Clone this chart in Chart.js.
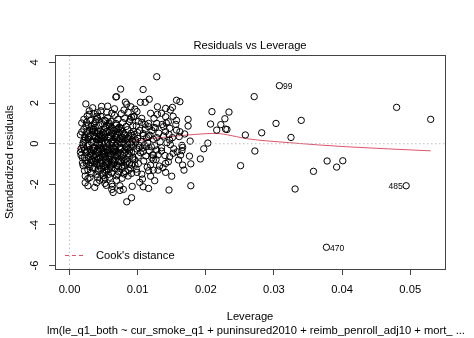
<!DOCTYPE html>
<html>
<head>
<meta charset="utf-8">
<script src="https://cdn.jsdelivr.net/npm/chart.js@4.4.1/dist/chart.umd.min.js"></script>
<style>
  html, body { margin: 0; padding: 0; background: #fff; }
</style>
</head>
<body>
<canvas id="rvl" width="474" height="338"></canvas>
<script>
// ------------------------------------------------------------------
// DATA
const chartTitle = 'Residuals vs Leverage';
const xTitle = 'Leverage';
const yTitle = 'Standardized residuals';
const modelCall = 'lm(le_q1_both ~ cur_smoke_q1 + puninsured2010 + reimb_penroll_adj10 + mort_ ...';
const legendLabel = "Cook's distance";

const xTicks = [0, 0.01, 0.02, 0.03, 0.04, 0.05];
const yTicks = [-6, -4, -2, 0, 2, 4];

// dense core of observations [leverage, standardized residual]
const coreObs = [
  [0.0018,1.02],[0.0021,0.71],[0.0016,0.44],[0.0023,0.18],[0.0019,-0.05],[0.0022,-0.31],[0.0017,-0.57],[0.0024,-0.83],[0.0020,-1.08],
  [0.0018,0.58],[0.0023,0.31],[0.0021,-0.18],[0.0016,-0.42],[0.0022,-0.69],[0.0019,-0.95],[0.0024,0.88],[0.0020,0.05],[0.0017,-0.24],
  [0.0022,0.35],[0.0019,-0.70],[0.0024,-0.45],[0.0021,0.15],

  [0.0026,1.38],[0.0031,1.15],[0.0028,0.92],[0.0033,0.74],[0.0025,0.55],[0.0030,0.40],[0.0027,0.22],[0.0032,0.08],[0.0029,-0.07],
  [0.0034,-0.21],[0.0026,-0.36],[0.0031,-0.50],[0.0028,-0.66],[0.0033,-0.81],[0.0025,-0.97],[0.0030,-1.12],[0.0027,-1.29],[0.0032,-1.45],
  [0.0029,1.62],[0.0034,0.63],[0.0026,-0.14],[0.0031,-0.93],[0.0028,0.30],[0.0033,-0.58],[0.0025,1.05],[0.0030,-0.28],[0.0027,-1.72],
  [0.0032,0.85],[0.0029,-1.03],[0.0034,0.12],[0.0027,0.48],[0.0032,-0.40],[0.0029,0.66],[0.0034,-1.20],

  [0.0036,1.48],[0.0041,1.27],[0.0038,1.08],[0.0043,0.90],[0.0035,0.71],[0.0040,0.54],[0.0037,0.37],[0.0042,0.21],[0.0039,0.06],
  [0.0044,-0.09],[0.0036,-0.24],[0.0041,-0.39],[0.0038,-0.55],[0.0043,-0.70],[0.0035,-0.86],[0.0040,-1.01],[0.0037,-1.17],[0.0042,-1.33],
  [0.0039,-1.50],[0.0044,-1.80],[0.0036,0.98],[0.0041,0.62],[0.0038,0.28],[0.0043,-0.02],[0.0035,-0.33],[0.0040,-0.64],[0.0037,-0.95],
  [0.0042,-1.25],[0.0039,1.18],[0.0044,0.45],[0.0036,-0.17],[0.0041,-0.78],[0.0038,0.80],[0.0043,-0.46],[0.0037,-2.15],[0.0040,1.35],
  [0.0036,0.12],[0.0041,-0.28],[0.0038,-0.82],[0.0043,0.33],[0.0035,-0.60],[0.0040,0.20],[0.0044,-1.08],[0.0037,0.58],

  [0.0046,1.35],[0.0051,1.16],[0.0048,0.98],[0.0053,0.80],[0.0045,0.63],[0.0050,0.47],[0.0047,0.31],[0.0052,0.15],[0.0049,0.00],
  [0.0054,-0.15],[0.0046,-0.30],[0.0051,-0.45],[0.0048,-0.61],[0.0053,-0.76],[0.0045,-0.92],[0.0050,-1.07],[0.0047,-1.23],[0.0052,-1.39],
  [0.0049,-1.58],[0.0054,-2.05],[0.0046,1.62],[0.0051,0.72],[0.0048,0.38],[0.0053,0.07],[0.0045,-0.23],[0.0050,-0.53],[0.0047,-0.84],
  [0.0052,-1.14],[0.0049,-1.45],[0.0054,0.90],[0.0046,0.22],[0.0051,-0.38],[0.0048,-0.99],[0.0053,1.12],[0.0045,-0.68],[0.0050,-1.78],
  [0.0046,-0.10],[0.0051,0.30],[0.0048,-0.48],[0.0053,-0.92],[0.0045,0.40],[0.0050,-0.20],[0.0047,0.10],[0.0052,-0.62],[0.0049,0.55],
  [0.0054,-1.30],

  [0.0056,1.28],[0.0061,1.10],[0.0058,0.93],[0.0063,0.76],[0.0055,0.59],[0.0060,0.43],[0.0057,0.27],[0.0062,0.11],[0.0059,-0.04],
  [0.0064,-0.19],[0.0056,-0.34],[0.0061,-0.50],[0.0058,-0.65],[0.0063,-0.81],[0.0055,-0.96],[0.0060,-1.12],[0.0057,-1.28],[0.0062,-1.44],
  [0.0059,-1.65],[0.0064,-2.40],[0.0056,1.85],[0.0061,0.68],[0.0058,0.35],[0.0063,0.02],[0.0055,-0.28],[0.0060,-0.58],[0.0057,-0.89],
  [0.0062,-1.20],[0.0059,0.85],[0.0064,0.18],[0.0056,-0.42],[0.0061,-1.05],[0.0058,1.02],[0.0063,-2.10],
  [0.0056,0.05],[0.0061,-0.25],[0.0058,-0.75],[0.0063,0.50],[0.0055,-1.10],[0.0060,0.28],[0.0057,-0.50],[0.0062,-0.95],[0.0059,0.62],
  [0.0064,-0.40],

  [0.0066,1.40],[0.0071,1.20],[0.0068,1.00],[0.0073,0.82],[0.0065,0.65],[0.0070,0.48],[0.0067,0.32],[0.0072,0.16],[0.0069,0.01],
  [0.0074,-0.14],[0.0066,-0.29],[0.0071,-0.45],[0.0068,-0.60],[0.0073,-0.76],[0.0065,-0.91],[0.0070,-1.07],[0.0067,-1.22],[0.0072,-1.38],
  [0.0069,-1.80],[0.0074,-2.30],[0.0066,1.72],[0.0071,0.74],[0.0068,0.40],[0.0073,0.08],[0.0065,-0.22],[0.0070,-0.52],[0.0067,-0.83],
  [0.0072,-1.13],[0.0069,0.92],[0.0074,0.25],[0.0066,-0.36],[0.0071,-1.50],
  [0.0066,0.10],[0.0071,-0.60],[0.0068,-0.15],[0.0073,0.55],[0.0065,-1.02],[0.0070,0.30],[0.0067,-0.40],[0.0072,-0.88],[0.0069,0.70],

  [0.0076,1.48],[0.0081,1.25],[0.0078,1.04],[0.0083,0.85],[0.0075,0.67],[0.0080,0.50],[0.0077,0.33],[0.0082,0.17],[0.0079,0.02],
  [0.0084,-0.13],[0.0076,-0.28],[0.0081,-0.44],[0.0078,-0.59],[0.0083,-0.75],[0.0075,-0.90],[0.0080,-1.06],[0.0077,-1.21],[0.0082,-1.37],
  [0.0079,-2.25],[0.0084,1.95],[0.0076,0.76],[0.0081,0.41],[0.0078,0.09],[0.0083,-0.21],[0.0075,-0.51],[0.0080,-0.82],[0.0077,-1.12],
  [0.0082,2.05],[0.0076,0.05],[0.0081,-0.30],[0.0078,0.60],[0.0083,-0.95],[0.0075,-0.20],[0.0080,0.25],[0.0077,-0.70],

  [0.0086,1.55],[0.0091,1.30],[0.0088,1.08],[0.0093,0.88],[0.0085,0.69],[0.0090,0.51],[0.0087,0.34],[0.0092,0.18],[0.0089,0.03],
  [0.0094,-0.12],[0.0086,-0.27],[0.0091,-0.43],[0.0088,-0.58],[0.0093,-0.74],[0.0085,-0.89],[0.0090,-1.22],[0.0087,-1.30],[0.0092,-2.10],
  [0.0089,1.20],[0.0094,0.60],[0.0086,0.27],[0.0091,-0.05],[0.0088,-0.35],[0.0093,-0.66],
  [0.0086,-0.50],[0.0091,0.40],[0.0088,-1.00],[0.0093,0.10],[0.0089,-0.18],

  [0.0096,1.70],[0.0101,1.10],[0.0098,0.88],[0.0103,0.66],[0.0095,0.46],[0.0100,0.27],[0.0097,0.09],[0.0102,-0.08],[0.0099,-0.26],
  [0.0104,-0.44],[0.0096,-0.80],[0.0101,-0.98],[0.0098,-1.25],[0.0103,-1.90],[0.0095,1.35],[0.0100,0.55],[0.0097,0.18],[0.0102,-0.20],

  [0.0106,1.05],[0.0111,0.72],[0.0108,0.50],[0.0113,0.30],[0.0105,0.12],[0.0110,-0.05],[0.0107,-0.22],[0.0112,-0.60],[0.0109,-0.85],
  [0.0114,-1.15],[0.0106,-1.50],[0.0111,0.95],[0.0108,0.40],[0.0113,-0.15],

  [0.0116,1.00],[0.0121,0.65],[0.0118,0.42],[0.0123,0.22],[0.0115,0.03],[0.0120,-0.15],[0.0117,-0.34],[0.0122,-0.55],[0.0119,-1.60],
  [0.0124,0.80],[0.0116,0.35],[0.0121,-0.70],

  [0.0126,0.78],[0.0131,0.52],[0.0128,0.30],[0.0133,0.10],[0.0125,-0.10],[0.0130,-0.55],[0.0127,-0.78],[0.0132,-1.10],[0.0129,1.45],
  [0.0136,0.95],[0.0141,0.60],[0.0138,0.38],[0.0143,0.05],[0.0135,-0.20],[0.0140,-0.58],[0.0137,-1.18],[0.0142,1.02],
  [0.0146,0.45],[0.0151,0.30],[0.0148,-0.05],[0.0153,-0.25],[0.0150,-1.60],[0.0152,1.35],
  [0.0156,0.95],[0.0161,0.35],[0.0158,-0.40],[0.0160,-0.80],[0.0157,1.15]
];

// edge of the cloud, upper and lower
const edgeObs = [
  [0.0128,3.30],[0.0075,2.69],[0.0108,2.67],[0.0068,2.30],[0.0069,2.32],[0.0024,1.96],[0.0034,1.77],[0.0047,1.84],
  [0.0041,1.53],[0.0029,1.45],[0.0021,1.20],[0.0055,1.55],[0.0062,1.50],[0.0090,1.82],[0.0080,1.66],
  [0.0104,2.04],[0.0111,2.04],[0.0117,2.19],[0.0157,2.14],[0.0151,1.79],[0.0148,1.66],[0.0141,1.74],[0.0129,1.82],
  [0.0135,1.50],[0.0119,1.50],[0.0099,1.58],[0.0094,1.33],[0.0106,1.25],[0.0124,1.25],[0.0141,1.33],[0.0145,1.08],
  [0.0157,0.67],[0.0147,0.76],[0.0138,0.84],[0.0128,1.00],[0.0116,0.84],[0.0147,0.18],

  [0.0107,-1.74],[0.0125,-1.82],[0.0146,-2.28],[0.0108,-2.12],[0.0116,-2.20],[0.0141,-1.41],[0.0141,-0.97],[0.0130,-1.30],
  [0.0123,-1.30],[0.0116,-1.33],[0.0119,-1.05],[0.0123,-0.80],[0.0123,-0.56],[0.0145,-0.89],[0.0147,-0.64],[0.0152,-0.47],
  [0.0135,-0.36],[0.0128,-0.31],[0.0108,-0.39],[0.0101,-0.61],[0.0096,-1.05],[0.0099,-1.41],[0.0091,-1.46],
  [0.0091,-2.66],[0.0084,-2.86],[0.0074,-2.07],[0.0062,-2.25],[0.0062,-1.99],[0.0052,-1.95],[0.0040,-1.92],[0.0027,-2.07],
  [0.0023,-1.92],[0.0030,-1.66],[0.0041,-1.66],[0.0023,-1.59],[0.0022,-1.33],[0.0091,-1.05],[0.0077,-1.70],[0.0080,-1.49],
  [0.0086,-1.59],[0.0069,-1.58],[0.0057,-1.51],[0.0052,-1.70]
];

// high leverage observations
const outerObs = [
  [0.0308,2.86],[0.0162,2.07],[0.0271,2.32],[0.0480,1.79],[0.0530,1.20],[0.0209,1.58],[0.0234,1.56],[0.0174,1.20],
  [0.0174,0.87],[0.0207,0.97],[0.0228,1.23],[0.0222,0.94],[0.0216,0.67],[0.0229,0.72],[0.0231,0.70],[0.0303,1.00],
  [0.0340,1.15],[0.0282,0.54],[0.0258,0.43],[0.0325,0.31],[0.0162,0.59],[0.0169,0.48],[0.0177,0.13],[0.0203,0.03],
  [0.0197,-0.25],[0.0166,-0.18],[0.0165,-0.08],[0.0165,-0.34],[0.0176,-0.61],[0.0163,-0.56],[0.0272,-0.36],[0.0192,-0.75],
  [0.0178,-0.99],[0.0166,-1.05],[0.0168,-1.30],[0.0251,-1.08],[0.0378,-0.85],[0.0401,-0.84],[0.0392,-1.15],[0.0358,-1.36],
  [0.0178,-2.07],[0.0331,-2.23],[0.0494,-2.07],[0.0377,-5.10]
];

// observation numbers printed next to points
const labelIds = ['99', '485', '470'];
const labelLev = [0.0308, 0.0494, 0.0377];
const labelRes = [2.86, -2.07, -5.10];
const labelSide = ['right', 'left', 'right'];

// red smoother
const smoothLev = [0.0011, 0.0027, 0.0059, 0.0092, 0.0125, 0.0174, 0.0215, 0.0230, 0.0260, 0.0323, 0.0407, 0.0530];
const smoothRes = [-0.24, -0.15, 0.01, 0.11, 0.27, 0.43, 0.51, 0.45, 0.25, 0.05, -0.15, -0.35];

const X_MIN = -0.00213, X_MAX = 0.0551;
const Y_MIN = -6.17, Y_MAX = 4.37;
// ------------------------------------------------------------------

const FONT = "'Liberation Sans', Arial, Helvetica, sans-serif";
const RED = '#DF536B';

const toXY = arr => arr.map(([x, y]) => ({ x, y }));

const decorPlugin = {
  id: 'decor',
  afterDraw(chart) {
    const { ctx, chartArea: a } = chart;
    const xs = chart.scales.x, ys = chart.scales.y;
    ctx.save();
    ctx.strokeStyle = '#444';
    ctx.lineWidth = 1;
    ctx.strokeRect(a.left + 0.5, a.top + 0.5, a.right - a.left, a.bottom - a.top);

    ctx.fillStyle = '#000';
    ctx.font = `11.2px ${FONT}`;
    ctx.textAlign = 'center';
    ctx.textBaseline = 'middle';
    const cx = (a.left + a.right) / 2;
    ctx.fillText(chartTitle, cx, 46);
    ctx.fillText(xTitle, cx, 317);
    ctx.fillText(modelCall, cx + 6, 331);

    ctx.save();
    ctx.translate(10, (a.top + a.bottom) / 2);
    ctx.rotate(-Math.PI / 2);
    ctx.fillText(yTitle, 0, 0);
    ctx.restore();

    // legend
    ctx.strokeStyle = RED;
    ctx.lineWidth = 1;
    ctx.setLineDash([4, 3]);
    ctx.beginPath();
    ctx.moveTo(65, 255.5);
    ctx.lineTo(86, 255.5);
    ctx.stroke();
    ctx.setLineDash([]);
    ctx.textAlign = 'left';
    ctx.fillText(legendLabel, 96, 255.5);

    // point ids
    ctx.font = `8.5px ${FONT}`;
    labelIds.forEach((id, i) => {
      const px = xs.getPixelForValue(labelLev[i]);
      const py = ys.getPixelForValue(labelRes[i]);
      const left = labelSide[i] === 'left';
      ctx.textAlign = left ? 'right' : 'left';
      ctx.fillText(id, px + (left ? -3.5 : 3.5), py + 1);
    });
    ctx.restore();
  }
};

const config = {
  type: 'scatter',
  data: {
    datasets: [
      {
        label: 'h0',
        data: [{ x: X_MIN, y: 0 }, { x: X_MAX, y: 0 }],
        showLine: true, borderColor: '#BEBEBE', borderWidth: 1, borderDash: [1.5, 2.5], pointRadius: 0,
      },
      {
        label: 'v0',
        data: [{ x: 0, y: Y_MIN }, { x: 0, y: Y_MAX }],
        showLine: true, borderColor: '#BEBEBE', borderWidth: 1, borderDash: [1.5, 2.5], pointRadius: 0,
      },
      {
        label: 'obs',
        data: toXY(coreObs.concat(edgeObs, outerObs)),
        pointStyle: 'circle', pointRadius: 3.2, borderWidth: 1,
        borderColor: '#000', backgroundColor: 'rgba(0,0,0,0)',
      },
      {
        label: 'smooth',
        data: smoothLev.map((x, i) => ({ x, y: smoothRes[i] })),
        showLine: true, borderColor: RED, borderWidth: 1, pointRadius: 0,
        cubicInterpolationMode: 'monotone',
      },
    ],
  },
  options: {
    responsive: false,
    animation: false,
    layout: { padding: { left: 0, top: 55, right: 29, bottom: 0 } },
    plugins: { legend: { display: false }, tooltip: { enabled: false } },
    scales: {
      x: {
        type: 'linear', min: X_MIN, max: X_MAX,
        afterBuildTicks: s => { s.ticks = xTicks.map(v => ({ value: v })); },
        afterFit: s => { s.height = 69; },
        grid: { drawOnChartArea: false, drawTicks: true, tickLength: 6, color: '#444' },
        border: { display: false },
        ticks: { font: { family: FONT, size: 11.2 }, color: '#000', padding: 8, maxRotation: 0, callback: v => v.toFixed(2) },
      },
      y: {
        type: 'linear', min: Y_MIN, max: Y_MAX,
        afterBuildTicks: s => { s.ticks = yTicks.map(v => ({ value: v })); },
        afterFit: s => { s.width = 55; },
        grid: { drawOnChartArea: false, drawTicks: true, tickLength: 6, color: '#444' },
        border: { display: false },
        ticks: { font: { family: FONT, size: 11.2 }, color: '#000', padding: 9, minRotation: 90, maxRotation: 90, crossAlign: 'center', callback: v => String(v) },
      },
    },
  },
  plugins: [decorPlugin],
};

new Chart(document.getElementById('rvl'), config);
</script>
</body>
</html>
